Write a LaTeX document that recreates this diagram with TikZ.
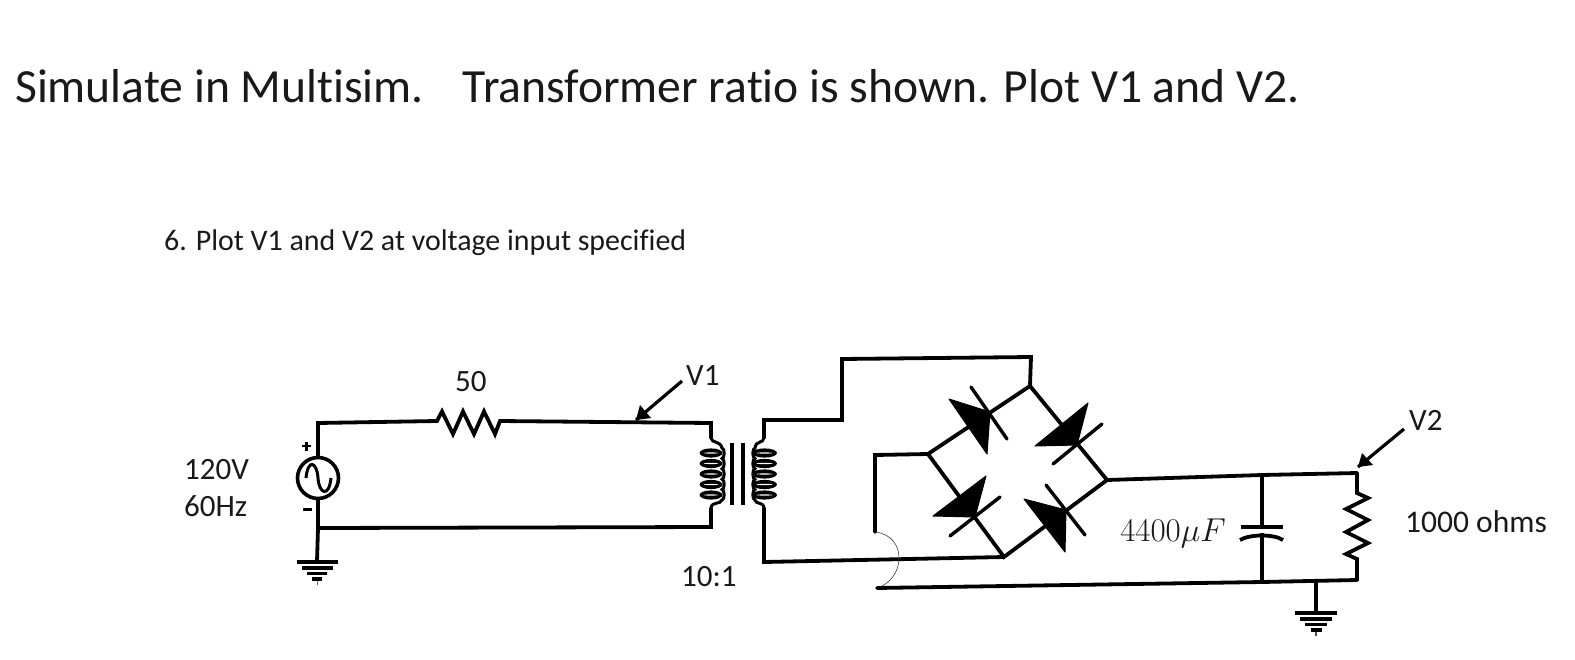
\documentclass[tikz,border=0pt]{standalone}
\usepackage{fontspec}
\setmainfont{Carlito}[Ligatures={NoCommon}]
\begin{document}
\begin{tikzpicture}[x=1pt,y=-1pt,
  wire/.style={line width=3.8pt,line join=miter,line cap=round,draw=black},
  thinwire/.style={line width=0.6pt,draw=black!75},
  lbl/.style={inner sep=0pt,anchor=base west,text=black!90},
  fs/.style={font=\fontsize{#1}{#1}\selectfont},
  bar/.style={line width=3.4pt,line cap=round},
  gbar/.style={line width=3.4pt},
  diodefill/.style={fill=black,draw=black,line width=1pt,line join=round}
]
\useasboundingbox (0,0) rectangle (1575,659);
\fill[white] (0,0) rectangle (1575,659);

% Text
\node[lbl,fs=47.6] (title) at (15,102) {Simulate in Multisim.\hspace{0.52em} Transformer ratio is shown. Plot V1 and V2.};
\node[lbl,fs=29.9] (sub) at (164,250) {6. Plot V1 and V2 at voltage input specified};
\node[lbl,fs=31] (r1v) at (455,391) {50};
\node[lbl,fs=31] (v1) at (686,385) {V1};
\node[lbl,fs=31] (v2) at (1409,430) {V2};
\node[lbl,fs=31] (va) at (184,479) {120V};
\node[lbl,fs=31] (hz) at (184,516) {60Hz};
\node[lbl,fs=31] (ratio) at (681,586) {10:1};
\node[lbl,fs=31.5] (ohm) at (1405,532) {1000 ohms};
\node[lbl,font=\fontsize{24.88}{26}\selectfont,scale=1.33] (cap) at (1120,541) {$4400\mu F$};

% Source
\node[circle,draw=black,line width=3.6pt,minimum size=41pt,inner sep=0pt] (src) at (318,478) {};
\draw[line width=3pt] (306,478) .. controls (308,458) and (317,462) .. (318,478)
  .. controls (319,494) and (329,498) .. (331,478);
\draw[line width=2.8pt] (302,446) -- (311,446) (306.5,441.5) -- (306.5,450.5);
\draw[line width=3pt] (303,509) -- (312,509);

% Junctions
\coordinate (tl) at (318,423);
\coordinate (bl) at (318,528);
\coordinate (r1a) at (437,421);
\coordinate (r1b) at (500,421);
\coordinate (ptop) at (711,423);
\coordinate (pbot) at (711,527);
\coordinate (pcoilt) at (711,438);
\coordinate (pcoilb) at (711,508);
\coordinate (stopw) at (764,420);
\coordinate (scoilt) at (764,438);
\coordinate (scoilb) at (764,508);
\coordinate (sbot) at (764,562);
\coordinate (s1) at (842,420);
\coordinate (s2) at (842,359);
\coordinate (s3) at (1031,357);
\coordinate (dt) at (1030,386);
\coordinate (dl) at (928,454);
\coordinate (dr) at (1107,480);
\coordinate (db) at (1004,557);
\coordinate (w1) at (875,455);
\coordinate (w2) at (875,532);
\coordinate (w3) at (877,588);
\coordinate (otr) at (1357,473);
\coordinate (obr) at (1357,580);
\coordinate (ctop) at (1262,475);
\coordinate (cbot) at (1262,582);
\coordinate (cp1) at (1262,527);
\coordinate (cp2) at (1262,533);
\coordinate (g1) at (317,562);
\coordinate (g2t) at (1316,581);
\coordinate (g2) at (1316,613);
\coordinate (v1s) at (682,381);
\coordinate (v1e) at (636,420);
\coordinate (v2s) at (1404,429);
\coordinate (v2e) at (1358,467);

% Left loop
\draw[wire] (src.north) -- (tl) -- (r1a)
  -- (442,411.5) -- (453,434) -- (463,411.5) -- (474,434) -- (484,411.5) -- (495,434) -- (r1b)
  -- (ptop) -- (pcoilt);
\draw[wire] (src.south) -- (bl) -- (pbot) -- (pcoilb);

% Primary coil
\foreach \yy in {453,463.5,474,484.5,495}{
  \fill[black] (711,\yy) ellipse (11.5pt and 4.6pt);
  \fill[white] (711,\yy) ellipse (7pt and 0.6pt);
}
\draw[line width=3pt] (pcoilt) .. controls (712,444) and (720,440) .. (722,448)
  arc[start angle=90,end angle=-90,x radius=2.2pt,y radius=5.2pt]
  arc[start angle=90,end angle=-90,x radius=2.2pt,y radius=5.2pt]
  arc[start angle=90,end angle=-90,x radius=2.2pt,y radius=5.2pt]
  arc[start angle=90,end angle=-90,x radius=2.2pt,y radius=5.2pt]
  arc[start angle=90,end angle=-90,x radius=2.2pt,y radius=5.2pt]
  .. controls (720,505) and (712,501) .. (pcoilb);

% Core
\draw[line width=3.6pt] (732,443) -- (732,505);
\draw[line width=3.6pt] (743,443) -- (743,505);

% Secondary coil
\foreach \yy in {453,463.5,474,484.5,495}{
  \fill[black] (764.5,\yy) ellipse (12.5pt and 4.6pt);
  \fill[white] (764.5,\yy) ellipse (8pt and 0.6pt);
}
\draw[line width=3pt] (scoilt) .. controls (763,444) and (756,440) .. (755,448)
  arc[start angle=90,end angle=270,x radius=2.2pt,y radius=5.2pt]
  arc[start angle=90,end angle=270,x radius=2.2pt,y radius=5.2pt]
  arc[start angle=90,end angle=270,x radius=2.2pt,y radius=5.2pt]
  arc[start angle=90,end angle=270,x radius=2.2pt,y radius=5.2pt]
  arc[start angle=90,end angle=270,x radius=2.2pt,y radius=5.2pt]
  .. controls (756,505) and (763,501) .. (scoilb);

% Secondary wiring
\draw[wire] (scoilt) -- (stopw) -- (s1) -- (s2) -- (s3) -- (dt);
\draw[wire] (scoilb) -- (sbot) -- (db);
\draw[wire] (dl) -- (w1) -- (w2);
\draw[thinwire] (w2) .. controls (892,534) and (899,546) .. (899,558) .. controls (899,572) and (890,584) .. (w3);
\draw[wire] (w3) -- (cbot) -- (obr);
\draw[wire] (dr) -- (ctop) -- (otr);

% Bridge
\draw[wire] (dl) -- (dt) -- (dr) -- (db) -- (dl);
\coordinate (a1) at (949,399); \coordinate (a2) at (987,454); \coordinate (a3) at (990,412);
\fill[diodefill] (a1) -- (a2) -- (a3) -- cycle;
\draw[bar] (971,387) -- (1007,439);
\coordinate (b1) at (1088,403); \coordinate (b2) at (1035,446); \coordinate (b3) at (1077,445);
\fill[diodefill] (b1) -- (b2) -- (b3) -- cycle;
\draw[bar] (1102,424) -- (1053,464);
\coordinate (c1) at (986,476); \coordinate (c2) at (933,516); \coordinate (c3) at (975,517);
\fill[diodefill] (c1) -- (c2) -- (c3) -- cycle;
\draw[bar] (1000,497) -- (950,536);
\coordinate (d1) at (1024,499); \coordinate (d2) at (1065,552); \coordinate (d3) at (1066,510);
\fill[diodefill] (d1) -- (d2) -- (d3) -- cycle;
\draw[bar] (1046,485) -- (1085,535);

% Capacitor
\draw[wire,line cap=butt] (ctop) -- (cp1);
\draw[wire,line cap=butt] (1241,527) -- (1283,527);
\draw[wire,line cap=butt] (1240,540) .. controls (1250,534) and (1274,534) .. (1283,540);
\draw[wire,line cap=butt] (cp2) -- (cbot);

% Load resistor
\draw[wire] (otr) -- (1357,493) -- (1368,498) -- (1346,509) -- (1368,520) -- (1346,532) -- (1368,543) -- (1346,554) -- (1357,559) -- (obr);

% Grounds
\draw[wire,line cap=butt] (bl) -- (g1);
\draw[gbar] (297,562) -- (338,562) (302,568) -- (333,568) (307,573.5) -- (327,573.5) (312,579) -- (322,579);
\draw[line width=1pt,black!60] (317,581) -- (317,585);
\draw[wire,line cap=butt] (g2t) -- (g2);
\draw[gbar] (1295,613) -- (1337,613) (1300,619) -- (1332,619) (1305,624.5) -- (1327,624.5) (1311,630) -- (1322,630);
\draw[line width=1.5pt,black!70] (1316,632) -- (1316,636);

% Probes
\draw[line width=3.2pt] (v1s) -- (v1e);
\fill[black] (v1e) -- (640,405) -- (651,418) -- cycle;
\draw[line width=3.2pt] (v2s) -- (v2e);
\fill[black] (v2e) -- (1362,453) -- (1373,465) -- cycle;
\end{tikzpicture}
\end{document}
